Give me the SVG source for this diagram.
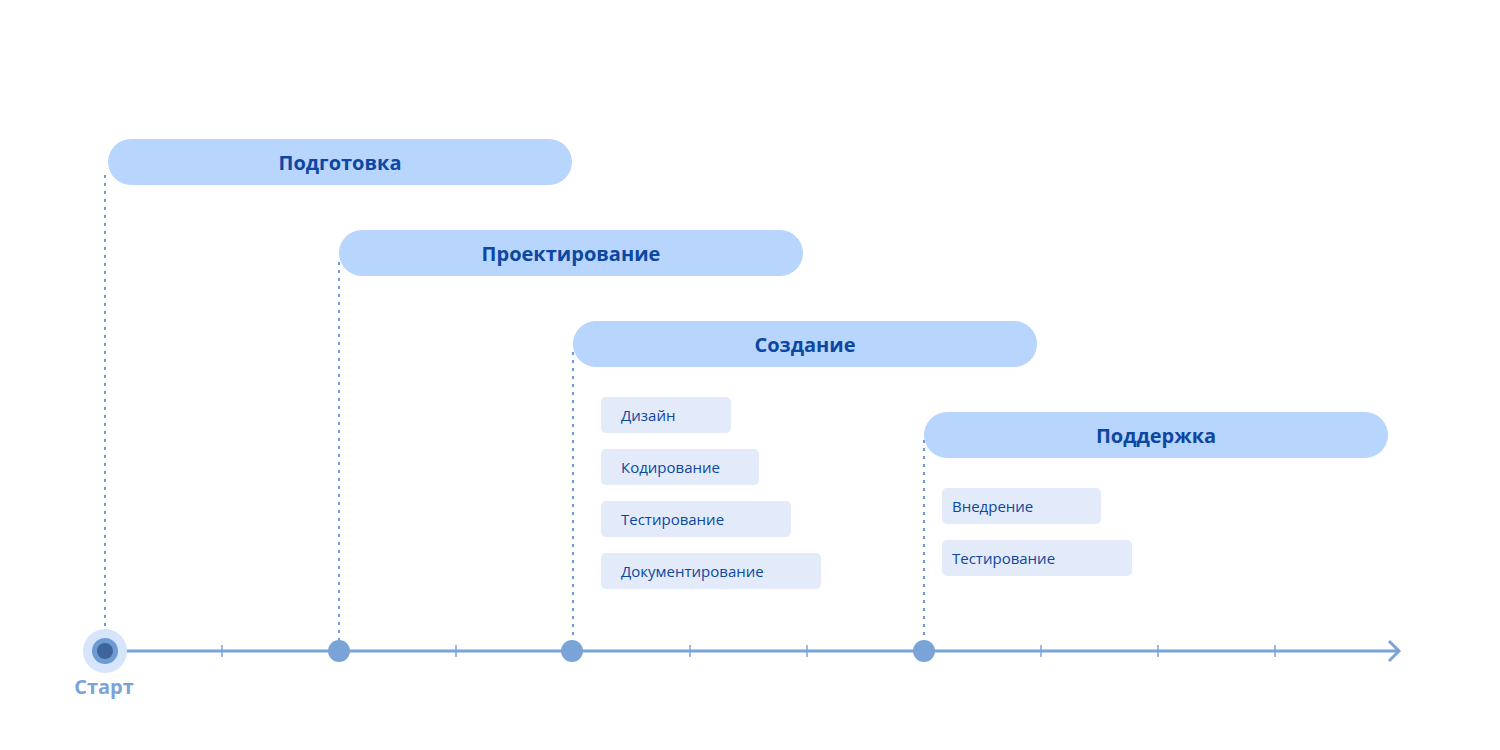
<svg xmlns="http://www.w3.org/2000/svg" width="1500" height="750" viewBox="0 0 1500 750">
<style>
.pill{fill:#b7d5fd}
.pt{font-family:"Open Sans","Noto Sans",sans-serif;font-weight:bold;font-size:20px;fill:#0d47a1;text-anchor:middle}
.sb{fill:#e3ebfa}
.st{font-family:"Open Sans","Noto Sans",sans-serif;font-size:15px;fill:#0d47a1}
.dot{stroke:#6f9bd4;stroke-width:2;stroke-dasharray:3 5;fill:none}
.ax{stroke:#7aa3d8;stroke-width:3;fill:none}
.tk{stroke:#7aa3d8;stroke-width:1.5}
.md{fill:#7aa3d8}
</style>
<rect width="1500" height="750" fill="#fff"/>
<g id="connectors">
<line class="dot" x1="105" y1="175" x2="105" y2="630"/>
<line class="dot" x1="339" y1="262" x2="339" y2="640"/>
<line class="dot" x1="573" y1="352" x2="573" y2="640"/>
<line class="dot" x1="924" y1="440" x2="924" y2="640"/>
<line class="ax" x1="105" y1="651" x2="1398" y2="651"/>
<polyline class="ax" points="1389,641 1399,651 1389,661" stroke-width="2.5"/>
<g class="tk"><line x1="222" y1="645" x2="222" y2="657"/><line x1="456" y1="645" x2="456" y2="657"/><line x1="690" y1="645" x2="690" y2="657"/><line x1="807" y1="645" x2="807" y2="657"/><line x1="1041" y1="645" x2="1041" y2="657"/><line x1="1158" y1="645" x2="1158" y2="657"/><line x1="1275" y1="645" x2="1275" y2="657"/></g>
</g>
<g id="start"><circle cx="105" cy="651" r="22" fill="#d6e5fc"/><circle cx="105" cy="651" r="13" fill="#6f9bd4"/><circle cx="105" cy="651" r="8" fill="#3d6599"/>
<text x="104" y="694" font-family="'Open Sans',sans-serif" font-weight="bold" font-size="20" fill="#7aa3d8" text-anchor="middle">Старт</text></g>
<g id="m1"><circle class="md" cx="339" cy="651" r="11"/></g>
<g id="m2"><circle class="md" cx="572" cy="651" r="11"/></g>
<g id="m3"><circle class="md" cx="924" cy="651" r="11"/></g>
<g id="p1"><rect class="pill" x="108" y="139" width="464" height="46" rx="23"/><text class="pt" x="340" y="170">Подготовка</text></g>
<g id="p2"><rect class="pill" x="339" y="230" width="464" height="46" rx="23"/><text class="pt" x="571" y="261">Проектирование</text></g>
<g id="p3"><rect class="pill" x="573" y="321" width="464" height="46" rx="23"/><text class="pt" x="805" y="352">Создание</text></g>
<g id="p4"><rect class="pill" x="924" y="412" width="464" height="46" rx="23"/><text class="pt" x="1156" y="443">Поддержка</text></g>
<g id="s1"><rect class="sb" x="601" y="397" width="130" height="36" rx="5"/><text class="st" x="621" y="421">Дизайн</text></g>
<g id="s2"><rect class="sb" x="601" y="449" width="158" height="36" rx="5"/><text class="st" x="621" y="473">Кодирование</text></g>
<g id="s3"><rect class="sb" x="601" y="501" width="190" height="36" rx="5"/><text class="st" x="621" y="525">Тестирование</text></g>
<g id="s4"><rect class="sb" x="601" y="553" width="220" height="36" rx="5"/><text class="st" x="621" y="577">Документирование</text></g>
<g id="s5"><rect class="sb" x="942" y="488" width="159" height="36" rx="5"/><text class="st" x="952" y="512">Внедрение</text></g>
<g id="s6"><rect class="sb" x="942" y="540" width="190" height="36" rx="5"/><text class="st" x="952" y="564">Тестирование</text></g>
</svg>
